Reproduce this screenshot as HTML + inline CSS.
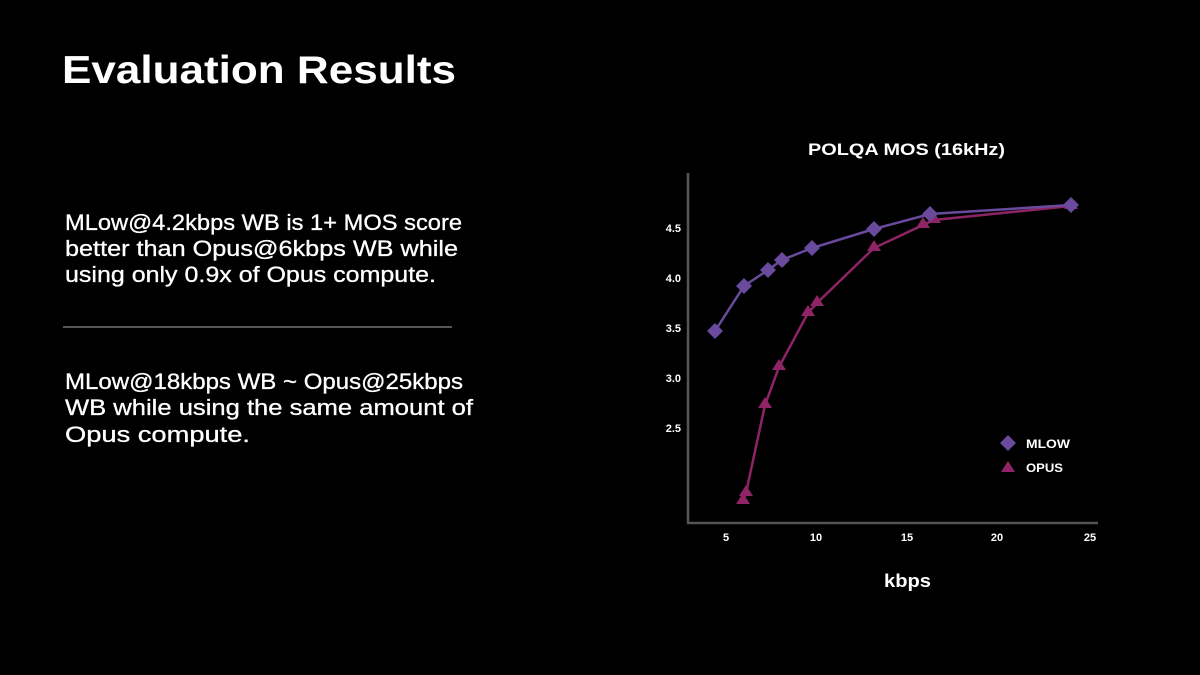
<!DOCTYPE html>
<html><head><style>html,body{margin:0;padding:0;background:#000;}svg{display:block}</style></head>
<body>
<svg width="1200" height="675" viewBox="0 0 1200 675" xmlns="http://www.w3.org/2000/svg" font-family="Liberation Sans, sans-serif">
<rect width="1200" height="675" fill="#000"/>
<text x="62" y="83" fill="#fff" font-size="39" font-weight="bold" textLength="394" lengthAdjust="spacingAndGlyphs">Evaluation Results</text>
<g fill="#fff" font-size="22" stroke="#fff" stroke-width="0.3">
<text x="65" y="230" textLength="397" lengthAdjust="spacingAndGlyphs">MLow@4.2kbps WB is 1+ MOS score</text>
<text x="65" y="256" textLength="393" lengthAdjust="spacingAndGlyphs">better than Opus@6kbps WB while</text>
<text x="65" y="282" textLength="371" lengthAdjust="spacingAndGlyphs">using only 0.9x of Opus compute.</text>
<text x="65" y="389" textLength="398" lengthAdjust="spacingAndGlyphs">MLow@18kbps WB ~ Opus@25kbps</text>
<text x="65" y="415" textLength="408" lengthAdjust="spacingAndGlyphs">WB while using the same amount of</text>
<text x="65" y="442" textLength="185" lengthAdjust="spacingAndGlyphs">Opus compute.</text>
</g>
<line x1="63" y1="327" x2="452" y2="327" stroke="#555" stroke-width="2"/>
<text x="808" y="155" fill="#fff" font-size="17" font-weight="bold" textLength="197" lengthAdjust="spacingAndGlyphs">POLQA MOS (16kHz)</text>
<text x="884" y="587" fill="#fff" font-size="18" font-weight="bold" textLength="47" lengthAdjust="spacingAndGlyphs">kbps</text>
<polyline points="688,173 688,523 1098,523" fill="none" stroke="#555" stroke-width="2.5"/>
<g fill="#fff" font-size="11" font-weight="bold" text-anchor="end">
<text x="681" y="232">4.5</text><text x="681" y="282">4.0</text><text x="681" y="332">3.5</text><text x="681" y="382">3.0</text><text x="681" y="432">2.5</text>
</g>
<g fill="#fff" font-size="11" font-weight="bold" text-anchor="middle">
<text x="726" y="541">5</text><text x="816" y="541">10</text><text x="907" y="541">15</text><text x="997" y="541">20</text><text x="1090" y="541">25</text>
</g>
<polyline points="743,501 746,493 765,405 779,367 808,313 817,303 874,248 923,225 934,220 1071,206" fill="none" stroke="#8e2466" stroke-width="2.5"/>
<g fill="#8e2466">
<path d="M743,493 l7,11 h-14z"/><path d="M746,485 l7,11 h-14z"/><path d="M765,397 l7,11 h-14z"/><path d="M779,359 l7,11 h-14z"/><path d="M808,305 l7,11 h-14z"/><path d="M817,295 l7,11 h-14z"/><path d="M874,240 l7,11 h-14z"/><path d="M923,217 l7,11 h-14z"/><path d="M934,212 l7,11 h-14z"/><path d="M1071,198 l7,11 h-14z"/>
<path d="M1008,461 l7,11 h-14z"/>
</g>
<polyline points="715,331 744,286 768,270 782,260 812,248 874,229 930,214 1071,205" fill="none" stroke="#6a4a9c" stroke-width="2.5"/>
<g fill="#6a4a9c">
<path d="M715,323 l8,8 -8,8 -8,-8z"/><path d="M744,278 l8,8 -8,8 -8,-8z"/><path d="M768,262 l8,8 -8,8 -8,-8z"/><path d="M782,252 l8,8 -8,8 -8,-8z"/><path d="M812,240 l8,8 -8,8 -8,-8z"/><path d="M874,221 l8,8 -8,8 -8,-8z"/><path d="M930,206 l8,8 -8,8 -8,-8z"/><path d="M1071,197 l8,8 -8,8 -8,-8z"/>
<path d="M1008,435 l8,8 -8,8 -8,-8z"/>
</g>
<g fill="#fff" font-size="12" font-weight="bold">
<text x="1026" y="448" textLength="44" lengthAdjust="spacingAndGlyphs">MLOW</text>
<text x="1026" y="472" textLength="37" lengthAdjust="spacingAndGlyphs">OPUS</text>
</g>
</svg>
</body></html>
